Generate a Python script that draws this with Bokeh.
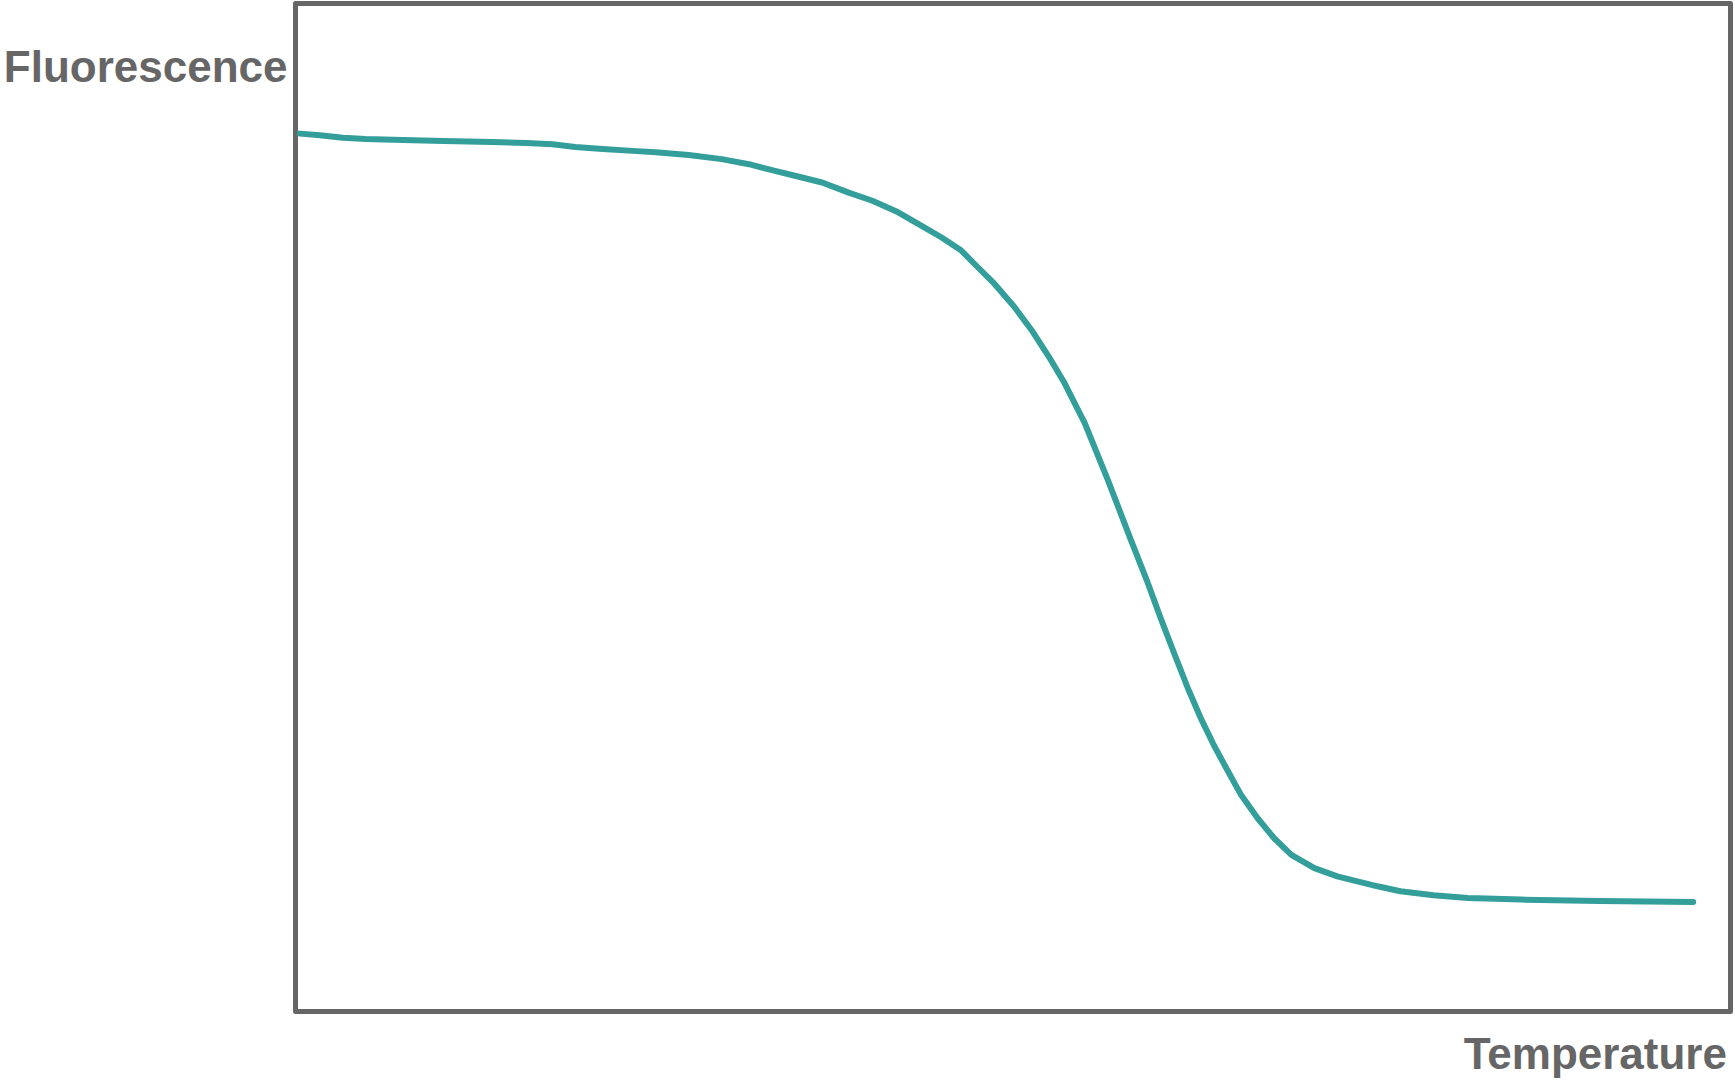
from bokeh.plotting import figure
from bokeh.models import Range1d, LinearAxis, FixedTicker
from bokeh.embed import file_html
from bokeh.resources import INLINE

# Melt curve: temperature (arbitrary units, 0-100) vs fluorescence (arbitrary units, 0-100)
temperature = [0.3, 1.7, 3.3, 4.9, 6.8, 10.3, 13.7, 16.1, 17.9, 19.5, 21.4, 23.5,
               25.1, 27.4, 29.7, 31.6, 33.2, 34.8, 36.7, 38.5, 40.2, 42.0, 43.6,
               45.0, 46.4, 47.3, 48.7, 50.1, 51.3, 52.5, 53.6, 55.0, 56.6, 58.2,
               59.4, 60.3, 61.25, 62.2, 63.1, 64.0, 65.0, 65.9, 67.05, 68.2, 69.4,
               71.0, 72.6, 75.4, 77.0, 79.3, 81.7, 85.4, 90.9, 97.4]
fluorescence = [87.09, 86.93, 86.69, 86.56, 86.49, 86.36, 86.26, 86.17, 86.04, 85.77,
                85.57, 85.38, 85.25, 84.98, 84.56, 84.06, 83.47, 82.91, 82.24, 81.26,
                80.43, 79.28, 77.96, 76.81, 75.49, 74.18, 72.20, 69.89, 67.59, 64.95,
                62.32, 58.37, 52.77, 46.84, 42.49, 38.98, 35.47, 32.02, 29.05, 26.41,
                23.78, 21.47, 19.17, 17.19, 15.54, 14.23, 13.41, 12.42, 11.93, 11.53,
                11.26, 11.10, 10.97, 10.87]

x_label = "Temperature"
y_label = "Fluorescence"

GRAY = "#666666"
TEAL = "#339e9a"
FONT = "Liberation Sans"
FS = "44px"

W, H = 1735, 1080
ML, MR, MT, MB = 293, 5, 3, 68

# where the axis names sit along their axes (fraction of the 0-100 range)
X_NAME_AT = 90.58
Y_NAME_AT = 93.77

p = figure(width=W, height=H, output_backend="svg", toolbar_location=None,
           x_range=Range1d(0, 100), y_range=Range1d(0, 100),
           x_axis_type=None, y_axis_type=None,
           min_border_left=ML, min_border_right=MR,
           min_border_top=MT, min_border_bottom=MB)
p.grid.visible = False
p.outline_line_color = GRAY
p.outline_line_width = 5
p.outline_line_join = "round"
p.background_fill_color = "white"
p.border_fill_color = "white"


def name_axis(ax, pos, label, standoff):
    ax.ticker = FixedTicker(ticks=[pos])
    ax.major_label_overrides = {pos: label}
    ax.axis_line_color = None
    ax.major_tick_line_color = None
    ax.minor_tick_line_color = None
    ax.major_label_text_font = FONT
    ax.major_label_text_font_style = "bold"
    ax.major_label_text_font_size = FS
    ax.major_label_text_color = GRAY
    ax.major_label_standoff = standoff
    ax.major_tick_out = 0
    ax.major_tick_in = 0


xax = LinearAxis()
name_axis(xax, X_NAME_AT, x_label, 17)
p.add_layout(xax, "below")

yax = LinearAxis()
name_axis(yax, Y_NAME_AT, y_label, 8)
p.add_layout(yax, "left")

p.line(temperature, fluorescence, line_color=TEAL, line_width=6,
       line_cap="round", line_join="round")

open("out.html", "w").write(file_html(p, INLINE))
